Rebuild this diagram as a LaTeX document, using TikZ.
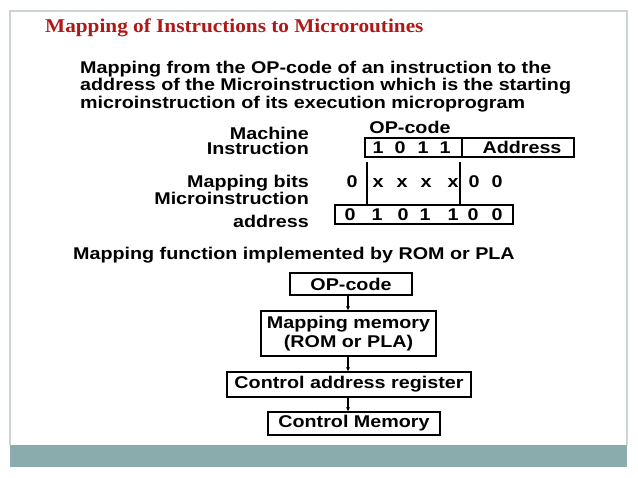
\documentclass[tikz,border=0pt]{standalone}
\usepackage{fontspec}
\setmainfont{Liberation Sans}[FakeStretch=1.16]
\newfontfamily\titlefont{Liberation Serif}[FakeStretch=1.09]
\usetikzlibrary{arrows.meta}
\definecolor{framegray}{HTML}{CDD4D4}
\definecolor{barteal}{HTML}{8AACAC}
\definecolor{titlered}{HTML}{B01818}
\tikzset{
  every node/.style={font=\fontsize{17}{19}\selectfont\bfseries, inner sep=0pt},
  lbl/.style={anchor=base east},
  bit/.style={anchor=base},
  fieldbox/.style={draw, line width=1.8pt},
  flowbox/.style={draw, line width=1.8pt, anchor=center},
  flowarrow/.style={line width=1.2pt, -{Stealth[length=4pt,width=4pt]}},
  mapline/.style={line width=2pt}
}
\begin{document}
\begin{tikzpicture}[x=1pt,y=-1pt]
\useasboundingbox (0,0) rectangle (638,478);
% slide frame
\fill[white] (0,0) rectangle (638,478);
\draw[framegray, line width=1.2pt] (10,445) -- (10,11) -- (627,11) -- (627,445);
\fill[barteal] (10,445) rectangle (627,467);
% title
\node[anchor=base west, text=titlered, font=\titlefont\fontsize{19.5}{22}\selectfont\bfseries] (title) at (45,32.5) {Mapping of Instructions to Microroutines};
% paragraph
\node[anchor=base west] (p1) at (80,73.5) {Mapping from the OP-code of an instruction to the};
\node[anchor=base west] (p2) at (80,91) {address of the Microinstruction which is the starting};
\node[anchor=base west] (p3) at (80,108.5) {microinstruction of its execution microprogram};
% left labels
\node[lbl] (mach) at (309,139.5) {Machine};
\node[lbl] (instr) at (309,155) {Instruction};
\node[lbl] (mbits) at (309,187.5) {Mapping bits};
\node[lbl] (micro) at (309,204.5) {Microinstruction};
\node[lbl] (addr) at (309,227.5) {address};
% machine instruction
\node[bit] (oplbl) at (410,134) {OP-code};
\node[fieldbox, minimum width=97pt, minimum height=19pt, anchor=north west] (opbox) at (364,137.5) {};
\node[fieldbox, minimum width=112pt, minimum height=19pt, anchor=north west] (adbox) at (461,137.5) {};
\node[bit] (o1) at (378,153.5) {1};
\node[bit] (o2) at (400,153.5) {0};
\node[bit] (o3) at (423,153.5) {1};
\node[bit] (o4) at (445,153.5) {1};
\node[bit] (adtxt) at (522,153.5) {Address};
% mapping bits
\node[bit] (m0) at (352,187.5) {0};
\node[bit] (m1) at (378,187.5) {x};
\node[bit] (m2) at (402,187.5) {x};
\node[bit] (m3) at (426,187.5) {x};
\node[bit] (m4) at (453,187.5) {x};
\node[bit] (m5) at (474,187.5) {0};
\node[bit] (m6) at (497,187.5) {0};
% micro address box
\node[fieldbox, minimum width=178pt, minimum height=19pt, anchor=north west] (mabox) at (334,204.5) {};
\node[bit] (a0) at (350,220.5) {0};
\node[bit] (a1) at (377,220.5) {1};
\node[bit] (a2) at (403,220.5) {0};
\node[bit] (a3) at (425,220.5) {1};
\node[bit] (a4) at (453,220.5) {1};
\node[bit] (a5) at (473,220.5) {0};
\node[bit] (a6) at (497,220.5) {0};
% mapping lines
\coordinate (ltop) at (366.5,162);
\coordinate (rtop) at (460,162);
\draw[mapline] (ltop) -- (ltop |- mabox.north);
\draw[mapline] (rtop) -- (rtop |- mabox.north);
% second heading
\node[anchor=base west] (mf) at (73,260) {Mapping function implemented by ROM or PLA};
% flow
\node[flowbox, minimum width=122pt, minimum height=22pt] (fop) at (351,284) {OP-code};
\node[flowbox, minimum width=175pt, minimum height=45pt, align=center] (fmm) at (348.5,333.5) {Mapping memory\\(ROM or PLA)};
\node[flowbox, minimum width=244pt, minimum height=25pt] (fcar) at (349,384.5) {Control address register};
\node[flowbox, minimum width=172pt, minimum height=23pt] (fcm) at (354,423.5) {Control Memory};
\coordinate (ax) at (348,0);
\draw[flowarrow] (ax |- fop.south) -- (ax |- fmm.north);
\draw[flowarrow] (ax |- fmm.south) -- (ax |- fcar.north);
\draw[flowarrow] (ax |- fcar.south) -- (ax |- fcm.north);
\end{tikzpicture}
\end{document}
